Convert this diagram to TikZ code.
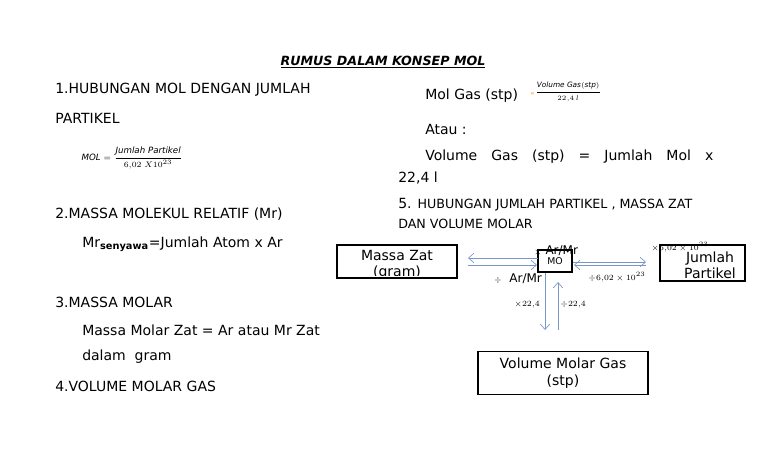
\documentclass[tikz,border=0pt]{standalone}
\usepackage{amsmath}
\usepackage{fontspec}
\setmainfont{DejaVu Sans}
\newfontfamily\serifx{Liberation Serif}
\usetikzlibrary{arrows.meta}
\definecolor{arr}{RGB}{120,150,200}
\tikzset{txt/.style={anchor=west,inner sep=0pt,font=\fontsize{10.5}{12}\selectfont},
 boxx/.style={draw,line width=0.9pt,inner sep=0pt},
 con/.style={draw=arr,line width=0.5pt,-{Straight Barb[length=4pt,width=7pt]}},
 sm/.style={inner sep=0pt,font=\serifx\fontsize{6}{7}\selectfont}}
\begin{document}
\begin{tikzpicture}[x=0.75pt,y=-0.75pt]
\useasboundingbox (0,0) rectangle (768,466);
\node[inner sep=0pt,font=\bfseries\itshape\fontsize{9.5}{11}\selectfont] (title) at (383,62) {\underline{RUMUS DALAM KONSEP MOL}};
\node[txt] (t1) at (55,90) {1.HUBUNGAN MOL DENGAN JUMLAH};
\node[txt] (t2) at (55,118) {PARTIKEL};
\node[inner sep=0pt,font=\fontsize{6.5}{7}\selectfont] (f1) at (132,158) {$\mathit{MOL}=\dfrac{\mathit{Jumlah\ Partikel}}{6{,}02\ X10^{23}}$};
\node[txt] (t3) at (55,214) {2.MASSA MOLEKUL RELATIF (Mr)};
\node[txt] (t4) at (82,244) {Mr\textsubscript{\textbf{senyawa}}=Jumlah Atom x Ar};
\node[txt] (t5) at (55,302) {3.MASSA MOLAR};
\node[txt] (t6) at (82,330) {Massa Molar Zat = Ar atau Mr Zat};
\node[txt] (t7) at (82,357) {dalam\ \ gram};
\node[txt] (t8) at (55,386) {4.VOLUME MOLAR GAS};
\node[txt] (r1) at (425,96) {Mol Gas (stp)};
\node[inner sep=0pt,font=\fontsize{5.5}{6}\selectfont,anchor=west] (f2) at (530,92) {{\color{orange}\textsubscript{=}}$\dfrac{\mathit{Volume\ Gas(stp)}}{22{,}4\,l}$};
\node[txt] (r2) at (425,130) {Atau :};
\node[txt,text width=216pt] (r3) at (425,157) {Volume\hfill Gas\hfill (stp)\hfill =\hfill Jumlah\hfill Mol\hfill x};
\node[txt] (r4) at (398,178) {22,4 l};
\node[txt] (r5) at (398,205) {5. {\fontsize{9.5}{11}\selectfont HUBUNGAN JUMLAH PARTIKEL , MASSA ZAT}};
\node[txt,font=\fontsize{9.5}{11}\selectfont] (r6) at (398,224) {DAN VOLUME MOLAR};
% boxes
\draw[line width=0.9pt] (337,245) rectangle (457,278);
\begin{scope}\clip (337,245) rectangle (457,276);
\node[font=\fontsize{10.5}{12}\selectfont,align=center,inner sep=0pt,anchor=north] (mz) at (397,250) {Massa Zat\\(gram)};
\end{scope}
\node[boxx,minimum width=25.5pt,minimum height=16.5pt,font=\fontsize{7}{8}\selectfont] (mo) at (555,261) {MO};
\draw[line width=0.9pt] (660,245) rectangle (745,281);
\begin{scope}\clip (660,245) rectangle (745,279);
\node[font=\fontsize{10.5}{12}\selectfont,align=center,inner sep=0pt,anchor=north] (jp) at (710,252) {Jumlah\\Partikel};
\end{scope}
\node[boxx,minimum width=127.5pt,minimum height=32pt,font=\fontsize{10.5}{13}\selectfont,align=center] (vm) at (563,373) {Volume Molar Gas\\(stp)};
% connectors
\coordinate (a1) at (538,258); \coordinate (a2) at (468,258);
\coordinate (b1) at (468,265); \coordinate (b2) at (537,265);
\coordinate (c1) at (573,262); \coordinate (c2) at (646,262);
\coordinate (d1) at (646,265); \coordinate (d2) at (574,265);
\coordinate (e1) at (545,273); \coordinate (e2) at (545,330);
\coordinate (g1) at (558,330); \coordinate (g2) at (558,282);
\draw[con] (a1) -- (a2);
\draw[con] (b1) -- (b2);
\draw[con] (c1) -- (c2);
\draw[con] (d1) -- (d2);
\draw[con] (e1) -- (e2);
\draw[con] (g1) -- (g2);
% labels
\node[inner sep=0pt,font=\fontsize{9}{10}\selectfont] (l1) at (556,251) {$\scriptstyle\times$\ Ar/Mr};
\node[inner sep=0pt,font=\fontsize{9}{10}\selectfont] (l2) at (518,279) {$\scriptstyle\div$\ \ Ar/Mr};
\node[sm] (l3) at (680,247) {$\times6{,}02\times10^{23}$};
\node[sm] (l4) at (617,277) {$\div6{,}02\times10^{23}$};
\node[sm] (l5) at (527,305) {$\times22{,}4$};
\node[sm] (l6) at (573,305) {$\div22{,}4$};
\end{tikzpicture}
\end{document}
